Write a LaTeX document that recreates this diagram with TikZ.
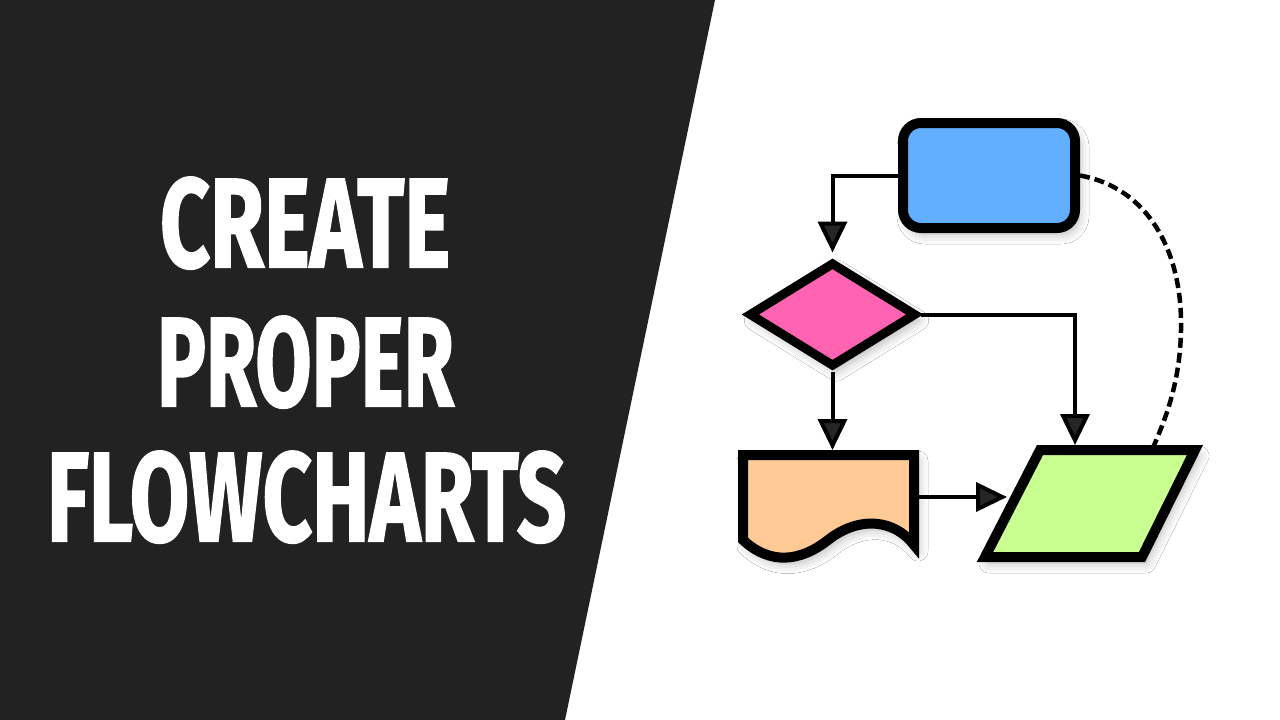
\documentclass[tikz,border=0pt]{standalone}
\usepackage{fontspec}
\setmainfont{Fira Sans}
\newfontfamily\titlefont[BoldFeatures={FakeBold=1.5}]{Fira Sans}
\usetikzlibrary{arrows.meta,shapes.geometric,shadows.blur}
\definecolor{darkbg}{HTML}{222222}
\definecolor{bluefill}{HTML}{62AEFF}
\definecolor{pinkfill}{HTML}{FF63B1}
\definecolor{peachfill}{HTML}{FFCA96}
\definecolor{greenfill}{HTML}{C9FF91}
\begin{document}
\begin{tikzpicture}[x=1pt,y=-1pt,
  title/.style={anchor=north west, inner sep=0pt, outer sep=0pt, text=white, font=\titlefont\bfseries},
  shp/.style={draw=black, line width=10pt, blur shadow={shadow xshift=4pt, shadow yshift=-6pt, shadow blur radius=10pt, shadow opacity=30}},
  flow/.style={line width=4pt, -{Triangle[width=29pt,length=31pt]}},
  dashline/.style={line width=4.5pt, dash pattern=on 10pt off 5pt}
]
\useasboundingbox (0,0) rectangle (1280,720);
\fill[white] (0,0) rectangle (1280,720);
\fill[darkbg] (0,0) -- (715,0) -- (565,720) -- (0,720) -- cycle;

\node[title] (t1) at (160,177) {\resizebox{290pt}{90pt}{CREATE}};
\node[title] (t2) at (157,316) {\resizebox{297pt}{90pt}{PROPER}};
\node[title] (t3) at (47,451) {\resizebox{519pt}{90pt}{FLOWCHARTS}};

% shapes
\node[shp, fill=bluefill, rounded corners=18pt, minimum width=172pt, minimum height=105pt, inner sep=0pt] (start) at (989,175.5) {};
\node[shp, diamond, line width=9pt, fill=pinkfill, minimum width=168pt, minimum height=105pt, inner sep=0pt] (dec) at (832.5,314.5) {};
\path[shp, fill=peachfill] (743,455) -- (914,455) -- (914,545) .. controls (895,520) and (860,515) .. (828,540) .. controls (800,562) and (770,565) .. (743,540) -- cycle;
\path[shp, fill=greenfill] (1040,450) -- (1195,450) -- (1142,557) -- (985,557) -- cycle;

\coordinate (docN) at (832.5,455);
\coordinate (docE) at (914,497);
\coordinate (parN) at (1075,450);
\coordinate (parW) at (1016,497);
\coordinate (parNE) at (1152,450);

% connectors
\draw[flow, shorten >=5pt] (start.west) -| (dec.north);
\draw[flow, shorten >=5pt] (dec.east) -| (parN);
\draw[flow, shorten >=5pt] (dec.south) -- (docN);
\draw[flow, shorten >=9pt] (docE) -- (parW);
\draw[dashline] (start.east) .. controls (1148,188) and (1180,250) .. (1181,320) .. controls (1182,380) and (1165,420) .. (parNE);
\end{tikzpicture}
\end{document}
